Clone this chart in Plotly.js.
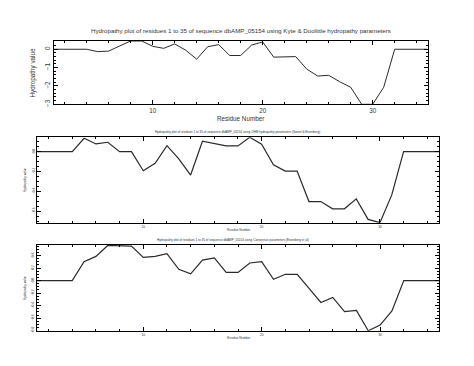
<!DOCTYPE html>
<html><head><meta charset="utf-8">
<script src="https://cdn.plot.ly/plotly-3.0.1.min.js"></script>
<style>html,body{margin:0;padding:0;background:#fff}#c{width:474px;height:366px}</style>
</head><body><div id="c"></div>
<script>
const residues = Array.from({length: 35}, (_, i) => i + 1);
const kyteDoolittle = [0,0,0,0,-0.13,-0.1,0.18,0.45,0.45,0.16,0.05,0.29,-0.05,-0.54,0.14,0.25,-0.34,-0.34,0.23,0.4,-0.43,-0.4,-0.4,-1.08,-1.46,-1.42,-1.77,-2.07,-3.0,-3.0,-2.07,0,0,0,0];
const ohm = [0,0,0,0,0.134,0.077,0.094,0,0,-0.193,-0.117,0.06,-0.073,-0.236,0.104,0.084,0.057,0.057,0.144,0.074,-0.133,-0.196,-0.196,-0.503,-0.503,-0.576,-0.576,-0.476,-0.683,-0.716,-0.436,0,0,0,0];
const consensus = [0,0,0,0,0.3,0.385,0.56,0.55,0.55,0.37,0.385,0.43,0.18,0.108,0.325,0.36,0.13,0.13,0.28,0.3,0.02,0.1,0.1,-0.124,-0.35,-0.27,-0.495,-0.475,-0.8,-0.71,-0.485,0,0,0,0];
const titles = [
  "Hydropathy plot of residues 1 to 35 of sequence dbAMP_05154 using Kyte & Doolittle hydropathy parameters",
  "Hydropathy plot of residues 1 to 35 of sequence dbAMP_05154 using OHM hydropathy parameters (Sweet & Eisenberg)",
  "Hydropathy plot of residues 1 to 35 of sequence dbAMP_05154 using Consensus parameters (Eisenberg et al)"
];
const xTitle = "Residue Number";
const yTitle = "Hydropathy value";

const W = 474, H = 366;
const fx = p => p / W, fy = p => (H - p) / H;
const font = "Liberation Sans, Arial, sans-serif";
const lineColor = "#2a2a2a";
const txt = "#333";

function xax(l, r, fs, anchor) {
  return {domain:[fx(l), fx(r)], range:[1,35], anchor:anchor, tickvals:[10,20,30],
    ticks:'inside', ticklen:4, tickcolor:'#000', mirror:'ticks', showline:true, linecolor:'#000', linewidth:1,
    showgrid:false, zeroline:false, tickfont:{family:font, size:fs, color:txt},
    minor:{dtick:2, tick0:0, ticks:'inside', ticklen:2, tickcolor:'#000', showgrid:false}};
}
function yax(t, b, range, dtick, mdt, fs, anchor, fmt) {
  return {domain:[fy(b), fy(t)], range:range, anchor:anchor, dtick:dtick, tick0:0, tickformat:fmt,
    ticks:'inside', ticklen:4, tickcolor:'#000', mirror:'ticks', showline:true, linecolor:'#000', linewidth:1,
    showgrid:false, zeroline:false, tickangle:-90, tickfont:{family:font, size:fs, color:txt},
    minor:{dtick:mdt, ticks:'inside', ticklen:2, tickcolor:'#000', showgrid:false}};
}

const data = [
  {x:residues, y:kyteDoolittle, xaxis:'x', yaxis:'y', mode:'lines', line:{color:lineColor, width:1}},
  {x:residues, y:ohm, xaxis:'x2', yaxis:'y2', mode:'lines', line:{color:lineColor, width:1.2}},
  {x:residues, y:consensus, xaxis:'x3', yaxis:'y3', mode:'lines', line:{color:lineColor, width:1.2}}
];

const ann = (text, x, y, size, angle) => ({text:text, x:fx(x), y:fy(y), xref:'paper', yref:'paper',
  showarrow:false, xanchor:'center', yanchor:'middle', textangle:angle||0, font:{family:font, size:size, color:txt}});

const layout = {
  width:W, height:H, margin:{l:0,r:0,t:0,b:0}, paper_bgcolor:'#fff', plot_bgcolor:'#fff', showlegend:false,
  xaxis: xax(53.7, 427.7, 6.3, 'y'),
  yaxis: yax(41, 104.3, [-3, 0.45], 1, 0.2, 6.3, 'x', 'd'),
  xaxis2: xax(36.8, 439.1, 3.2, 'y2'),
  yaxis2: yax(137.3, 222.7, [-0.716, 0.144], 0.2, 0.05, 3.2, 'x2', '.1f'),
  xaxis3: xax(36.7, 439.3, 3.2, 'y3'),
  yaxis3: yax(245, 330.7, [-0.8, 0.567], 0.2, 0.05, 3.2, 'x3', '.1f'),
  annotations: [
    ann(titles[0], 240.8, 30.7, 6.2),
    ann(xTitle, 240, 118.5, 6.3),
    ann(yTitle, 32, 72.5, 6.3, -90),
    ann(titles[1], 237, 132.3, 3.1),
    ann(xTitle, 238, 230, 3.1),
    ann(yTitle, 25, 180, 3.1, -90),
    ann(titles[2], 233, 239.7, 3.1),
    ann(xTitle, 238, 338, 3.1),
    ann(yTitle, 25, 288, 3.1, -90)
  ]
};
Plotly.newPlot('c', data, layout, {staticPlot:true, displayModeBar:false});
</script></body></html>
